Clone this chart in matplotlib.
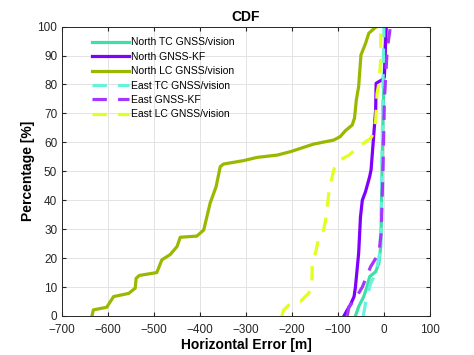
import matplotlib.pyplot as plt

plt.rcParams['font.family'] = ['Liberation Sans', 'DejaVu Sans']

# CDF curves (x = horizontal error [m], y = percentage)
north_tc_x = [-62, -55, -44, -37, -31, -18, -11, -7, -6, -4, -2, 1, 3.5]
north_tc_y = [0, 3.2, 6.7, 10, 13.6, 15.3, 18.2, 24, 30.9, 51.6, 68.9, 86.2, 100]

north_kf_x = [-87, -80, -73, -65, -62, -55, -51, -47, -40, -31, -28, -23, -18, -17, -11, -4, 1, 3.5, 5]
north_kf_y = [0, 2, 3.8, 6.7, 10, 21.7, 34.3, 40, 43, 48.2, 50.5, 60.8, 71.2, 80.4, 81, 81.6, 82.7, 94.2, 100]

north_lc_x = [-635, -632, -603, -588, -555, -541, -539, -532, -494, -483, -465, -450, -443, -407,
              -392, -378, -365, -356, -349, -305, -276, -232, -203, -153, -109, -95, -84, -69,
              -64, -60, -55, -50, -40, -33, -18, -15]
north_lc_y = [0, 2.1, 3, 6.7, 7.8, 9.6, 13, 14, 15, 19.4, 21.2, 24, 27.2, 27.6,
              29.7, 39, 44.7, 51.6, 52.5, 53.7, 54.8, 55.6, 56.8, 59.4, 60.8, 62, 64, 66,
              68.4, 74.7, 79.3, 90.2, 94.2, 97.7, 99.8, 100]

east_tc_x = [-45, -40, -29, -18, -9, -6, -4, -2, 0]
east_tc_y = [0, 4.4, 11.3, 14.7, 21.7, 34, 57, 80, 100]

east_kf_x = [-80, -76, -62, -47, -29, -11, -6, -2, 1, 7, 14]
east_kf_y = [0, 3.2, 6, 10, 17, 21.7, 28.6, 51.6, 74.7, 92, 100]

east_lc_x = [-222, -218, -203, -182, -164, -157, -156, -149, -142, -134, -127, -120, -116,
             -109, -102, -76, -55, -29, -23, -18, -15, -11, -7, -7, -9]
east_lc_y = [0, 2.1, 4.4, 5, 7.8, 10, 18, 21.7, 26.8, 28, 33, 42.4, 45.8,
             50.5, 53.3, 55.6, 58.5, 61.4, 63, 67.7, 76.9, 80.4, 88.5, 97.7, 100]

fig = plt.figure(figsize=(4.74, 3.55), dpi=100)
ax = fig.add_axes([0.131, 0.110, 0.776, 0.815])

lw = 2.3
dash = (0, (4.5, 3.5))
ax.plot(north_tc_x, north_tc_y, color="#3ee0a8", lw=lw, label="North TC GNSS/vision")
ax.plot(north_kf_x, north_kf_y, color="#7f00ff", lw=lw, label="North GNSS-KF")
ax.plot(north_lc_x, north_lc_y, color="#99b800", lw=lw, label="North LC GNSS/vision")
ax.plot(east_tc_x, east_tc_y, color="#66f2dc", lw=lw, ls=dash, label="East TC GNSS/vision")
ax.plot(east_kf_x, east_kf_y, color="#a536ff", lw=lw, ls=dash, label="East GNSS-KF")
ax.plot(east_lc_x, east_lc_y, color="#e2ff1e", lw=lw, ls=dash, label="East LC GNSS/vision")

ax.set_xlim(-700, 100)
ax.set_ylim(0, 100)
ax.set_xticks(range(-700, 101, 100))
ax.set_yticks(range(0, 101, 10))
ax.grid(True, color="#e3e3e3", lw=0.7)
ax.set_axisbelow(True)
ax.tick_params(direction="in", top=True, right=True, labelsize=8.5, length=3, colors="#262626")
ax.tick_params(axis="x", pad=6)
for s in ax.spines.values():
    s.set_color("#262626")
    s.set_linewidth(0.7)

ax.set_xlabel("Horizontal Error [m]", fontsize=10, fontweight="bold", labelpad=1)
ax.set_ylabel("Percentage [%]", fontsize=10, fontweight="bold", labelpad=2)
ax.set_title("CDF", fontsize=10, fontweight="bold", pad=4)

ax.legend(loc="upper left", frameon=False, fontsize=7.5, handlelength=3.6,
          handletextpad=0.2, labelspacing=0.42, bbox_to_anchor=(0.055, 0.995))

fig.savefig("out.png", dpi=100)
